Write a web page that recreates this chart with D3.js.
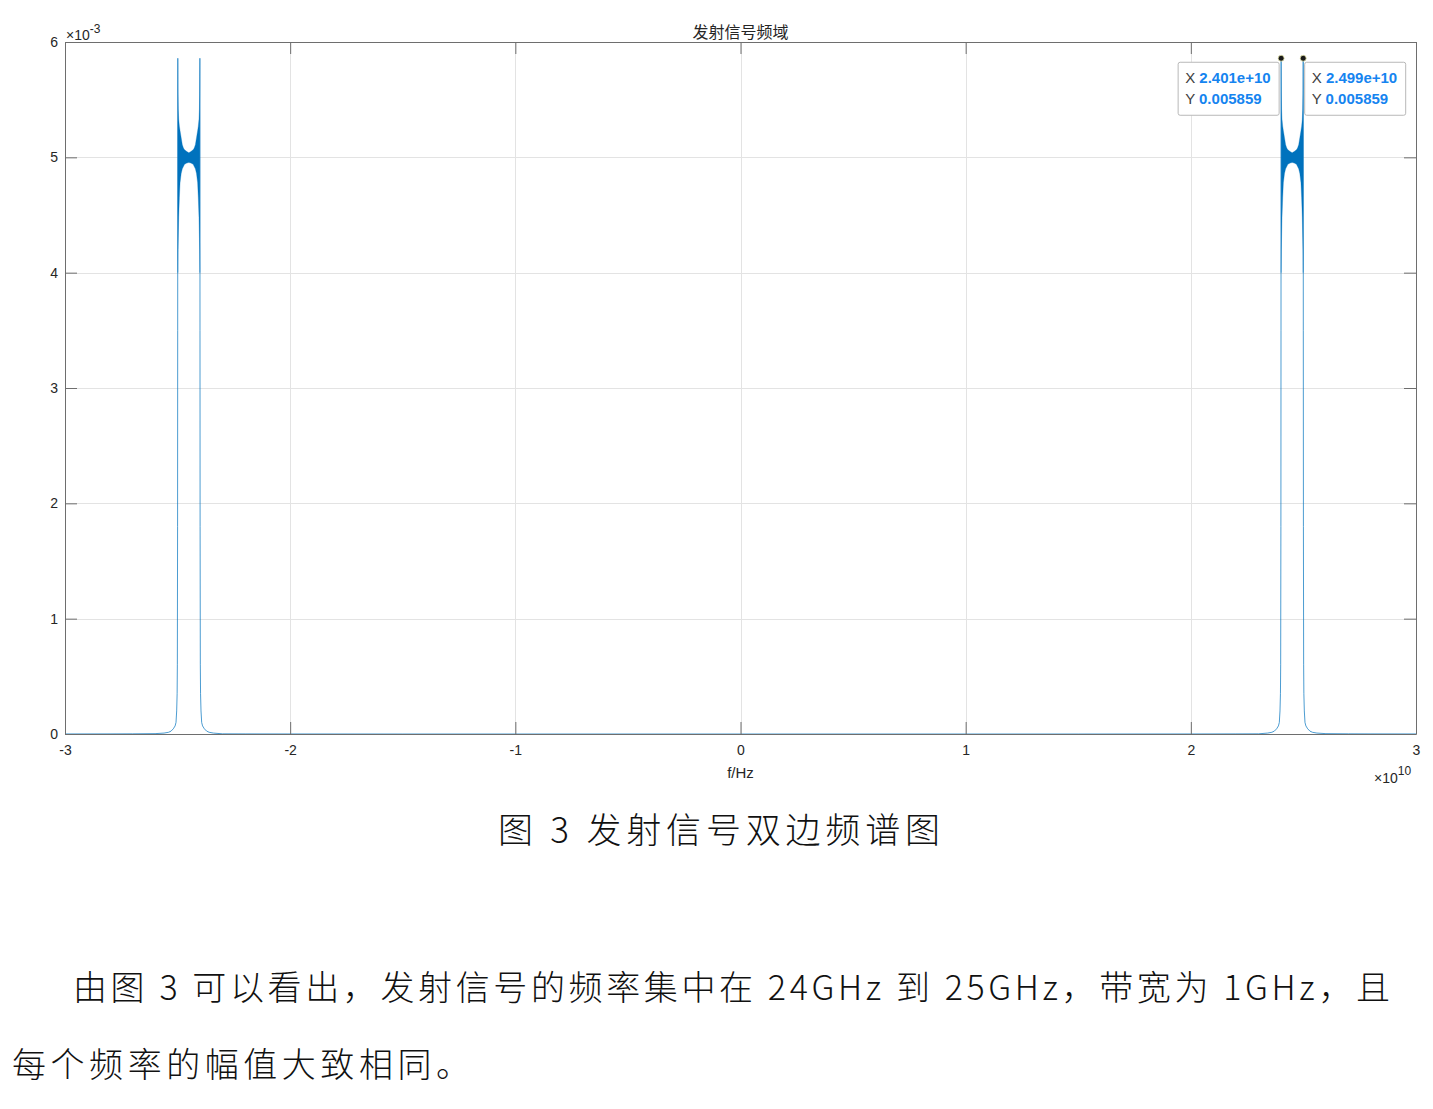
<!DOCTYPE html>
<html>
<head>
<meta charset="utf-8">
<script src="https://cdn.jsdelivr.net/npm/d3@7"></script>
<style>
  html, body { margin: 0; padding: 0; background: #fff; }
  svg { display: block; }
</style>
</head>
<body>
<svg id="chart" width="1433" height="1109"></svg>
<script>
// ---------------- data ----------------
const chartTitle = "发射信号频域";
const xLabel = "f/Hz";
const xTicks = [-3e10, -2e10, -1e10, 0, 1e10, 2e10, 3e10];
const xTickLabels = ["-3", "-2", "-1", "0", "1", "2", "3"];
const yTicks = [0, 0.001, 0.002, 0.003, 0.004, 0.005, 0.006];
const yTickLabels = ["0", "1", "2", "3", "4", "5", "6"];

// spectrum outline (skirts outside the two bands), Hz / amplitude
const skirtLeftF = [-3.000e10, -2.800e10, -2.700e10, -2.600e10, -2.560e10, -2.540e10, -2.529e10, -2.519e10, -2.511e10, -2.507e10, -2.504e10, -2.502e10, -2.501e10, -2.500e10, -2.4995e10, -2.499e10];
const skirtLeftA = [0.0000005, 0.000001, 0.0000015, 0.000003, 0.000008, 0.000015, 0.000025, 0.000045, 0.00007, 0.0001, 0.0002, 0.00035, 0.0006, 0.0018, 0.0035, 0.005859];

const skirtMidF = [-2.401e10, -2.4005e10, -2.400e10, -2.399e10, -2.398e10, -2.396e10, -2.393e10, -2.389e10, -2.381e10, -2.371e10, -2.360e10, -2.341e10, -2.301e10, -2.200e10, -2.000e10, -1.500e10, 0, 1.500e10, 2.000e10, 2.200e10, 2.301e10, 2.341e10, 2.360e10, 2.371e10, 2.381e10, 2.389e10, 2.393e10, 2.396e10, 2.398e10, 2.399e10, 2.400e10, 2.4005e10, 2.401e10];
const skirtMidA = [0.005859, 0.0035, 0.0018, 0.0006, 0.00035, 0.0002, 0.0001, 0.00007, 0.000045, 0.000025, 0.000015, 0.000008, 0.0000015, 0.000001, 0.0000005, 0, 0, 0, 0.0000005, 0.000001, 0.0000015, 0.000008, 0.000015, 0.000025, 0.000045, 0.00007, 0.0001, 0.0002, 0.00035, 0.0006, 0.0018, 0.0035, 0.005859];

const skirtRightF = [2.499e10, 2.4995e10, 2.500e10, 2.501e10, 2.502e10, 2.504e10, 2.507e10, 2.511e10, 2.519e10, 2.529e10, 2.540e10, 2.560e10, 2.600e10, 2.700e10, 2.800e10, 3.000e10];
const skirtRightA = [0.005859, 0.0035, 0.0018, 0.0006, 0.00035, 0.0002, 0.0001, 0.00007, 0.000045, 0.000025, 0.000015, 0.000008, 0.000003, 0.0000015, 0.000001, 0.0000005];

// dense ripple inside the bands: upper / lower envelope
const bandLeftF = [-2.499e10, -2.4985e10, -2.498e10, -2.497e10, -2.495e10, -2.492e10, -2.489e10, -2.484e10, -2.479e10, -2.474e10, -2.469e10, -2.459e10, -2.450e10, -2.441e10, -2.431e10, -2.426e10, -2.421e10, -2.416e10, -2.411e10, -2.408e10, -2.405e10, -2.403e10, -2.402e10, -2.4015e10, -2.401e10];
const bandRightF = [2.401e10, 2.4015e10, 2.402e10, 2.403e10, 2.405e10, 2.408e10, 2.411e10, 2.416e10, 2.421e10, 2.426e10, 2.431e10, 2.441e10, 2.450e10, 2.459e10, 2.469e10, 2.474e10, 2.479e10, 2.484e10, 2.489e10, 2.492e10, 2.495e10, 2.497e10, 2.498e10, 2.4985e10, 2.499e10];
const bandUpper = [0.005859, 0.0057, 0.00555, 0.00542, 0.00533, 0.00527, 0.00523, 0.00517, 0.00511, 0.00508, 0.005065, 0.00505, 0.00504, 0.00505, 0.005065, 0.00508, 0.00511, 0.00517, 0.00523, 0.00527, 0.00533, 0.00542, 0.00555, 0.0057, 0.005859];
const bandLower = [0.0040, 0.0041, 0.0042, 0.0043, 0.00448, 0.00465, 0.00478, 0.00486, 0.0049, 0.00492, 0.00494, 0.00495, 0.004955, 0.00495, 0.00494, 0.00492, 0.0049, 0.00486, 0.00478, 0.00465, 0.00448, 0.0043, 0.0042, 0.0041, 0.0040];

// data tips
const tipX = [2.401e10, 2.499e10];
const tipY = [0.005859, 0.005859];

const caption = "图 3  发射信号双边频谱图";
const paraLine1 = "由图 3 可以看出，发射信号的频率集中在 24GHz 到 25GHz，带宽为 1GHz，且";
const paraLine2 = "每个频率的幅值大致相同。";

// ---------------- drawing ----------------
const svg = d3.select("#chart");
const L = 65, R = 1416, T = 42, B = 734;
const x = d3.scaleLinear().domain([-3e10, 3e10]).range([L, R]);
const y = d3.scaleLinear().domain([0, 0.006]).range([B, T]);
const blue = "#0072BD";
const axisColor = "#6e6e6e";
const textColor = "#262626";
const latin = "'Liberation Sans', Arial, Helvetica, sans-serif";
const cjk = "'Noto Sans CJK SC', 'Noto Sans', sans-serif";

svg.append("rect").attr("width", 1433).attr("height", 1109).attr("fill", "#fff");

// grid
const grid = svg.append("g");
grid.selectAll(".gx").data(xTicks.slice(1, -1)).enter().append("line")
  .attr("x1", d => Math.round(x(d)) + 0.5).attr("x2", d => Math.round(x(d)) + 0.5)
  .attr("y1", T).attr("y2", B).attr("stroke", "#e3e3e3").attr("stroke-width", 1);
grid.selectAll(".gy").data(yTicks.slice(1, -1)).enter().append("line")
  .attr("x1", L).attr("x2", R)
  .attr("y1", d => Math.round(y(d)) + 0.5).attr("y2", d => Math.round(y(d)) + 0.5)
  .attr("stroke", "#e3e3e3").attr("stroke-width", 1);

// band areas
const area = d3.area().x(d => x(d[0])).y0(d => y(d[2])).y1(d => y(d[1]));
[bandLeftF, bandRightF].forEach(F => {
  svg.append("path")
    .datum(F.map((f, i) => [f, bandUpper[i], bandLower[i]]))
    .attr("d", area).attr("fill", blue).attr("stroke", blue).attr("stroke-width", 0.3);
});

// skirt lines
const line = d3.line().x(d => x(d[0])).y(d => y(d[1]));
[[skirtLeftF, skirtLeftA], [skirtMidF, skirtMidA], [skirtRightF, skirtRightA]].forEach(([F, A]) => {
  svg.append("path")
    .datum(F.map((f, i) => [f, A[i]]))
    .attr("d", line).attr("fill", "none").attr("stroke", blue)
    .attr("stroke-width", 1).attr("stroke-opacity", 0.7);
});

// axes (inward ticks, box)
function styleAxis(g) {
  g.select(".domain").attr("stroke", axisColor);
  g.selectAll(".tick line").attr("stroke", axisColor);
  g.selectAll(".tick text").attr("fill", textColor).attr("font-family", latin).attr("font-size", 14);
}
const ax = svg.append("g").attr("transform", `translate(0,${B})`)
  .call(d3.axisBottom(x).tickValues(xTicks).tickFormat((d, i) => xTickLabels[i]).tickSize(-12).tickPadding(11).tickSizeOuter(0));
styleAxis(ax);
const axTop = svg.append("g").attr("transform", `translate(0,${T})`)
  .call(d3.axisTop(x).tickValues(xTicks).tickFormat("").tickSize(-12).tickSizeOuter(0));
styleAxis(axTop);
const ay = svg.append("g").attr("transform", `translate(${L},0)`)
  .call(d3.axisLeft(y).tickValues(yTicks).tickFormat((d, i) => yTickLabels[i]).tickSize(-12).tickPadding(7).tickSizeOuter(0));
styleAxis(ay);
const ayR = svg.append("g").attr("transform", `translate(${R},0)`)
  .call(d3.axisRight(y).tickValues(yTicks).tickFormat("").tickSize(-12).tickSizeOuter(0));
styleAxis(ayR);

// exponent labels
const e1 = svg.append("text").attr("x", 66).attr("y", 40).attr("font-family", latin).attr("font-size", 14).attr("fill", textColor);
e1.append("tspan").text("×10");
e1.append("tspan").attr("dy", -7).attr("font-size", 12).text("-3");
const e2 = svg.append("text").attr("x", 1374).attr("y", 783).attr("font-family", latin).attr("font-size", 14).attr("fill", textColor);
e2.append("tspan").text("×10");
e2.append("tspan").attr("dy", -8).attr("font-size", 12).text("10");

// title and x label
svg.append("text").attr("x", (L + R) / 2).attr("y", 38).attr("text-anchor", "middle")
  .attr("font-family", cjk).attr("font-size", 16).attr("fill", textColor).text(chartTitle);
svg.append("text").attr("x", (L + R) / 2).attr("y", 778).attr("text-anchor", "middle")
  .attr("font-family", latin).attr("font-size", 15).attr("fill", textColor).text(xLabel);

// data tips
const boxW = 101, boxH = 53;
tipX.forEach((fx, i) => {
  const px = x(fx), py = y(tipY[i]);
  const bx = i === 0 ? px - 2 - boxW : px + 1.5;
  const by = py + 4;
  svg.append("rect").attr("x", bx).attr("y", by).attr("width", boxW).attr("height", boxH)
    .attr("rx", 2).attr("fill", "#fff").attr("stroke", "#b8b8b8").attr("stroke-width", 1);
  const t1 = svg.append("text").attr("x", bx + 7).attr("y", by + 21).attr("font-family", latin).attr("font-size", 15);
  t1.append("tspan").attr("fill", "#404040").text("X ");
  t1.append("tspan").attr("fill", "#1584f0").attr("font-weight", "bold").text(fx.toExponential(3));
  const t2 = svg.append("text").attr("x", bx + 7).attr("y", by + 42).attr("font-family", latin).attr("font-size", 15);
  t2.append("tspan").attr("fill", "#404040").text("Y ");
  t2.append("tspan").attr("fill", "#1584f0").attr("font-weight", "bold").text(String(tipY[i]));
  svg.append("circle").attr("cx", px).attr("cy", py).attr("r", 3)
    .attr("fill", "#1a1a1a").attr("stroke", "#e8e8b0").attr("stroke-width", 0.8);
});

// caption and paragraph
svg.append("text").attr("x", 498).attr("y", 843).attr("font-family", cjk).attr("font-size", 35)
  .attr("font-weight", 300).attr("fill", "#111").attr("textLength", 442).attr("lengthAdjust", "spacing").text(caption);
svg.append("text").attr("x", 73).attr("y", 1000).attr("font-family", cjk).attr("font-size", 34)
  .attr("font-weight", 300).attr("fill", "#111").attr("textLength", 1317).attr("lengthAdjust", "spacing").text(paraLine1);
svg.append("text").attr("x", 12).attr("y", 1077).attr("font-family", cjk).attr("font-size", 34)
  .attr("font-weight", 300).attr("fill", "#111").attr("textLength", 458).attr("lengthAdjust", "spacing").text(paraLine2);
</script>
</body>
</html>
